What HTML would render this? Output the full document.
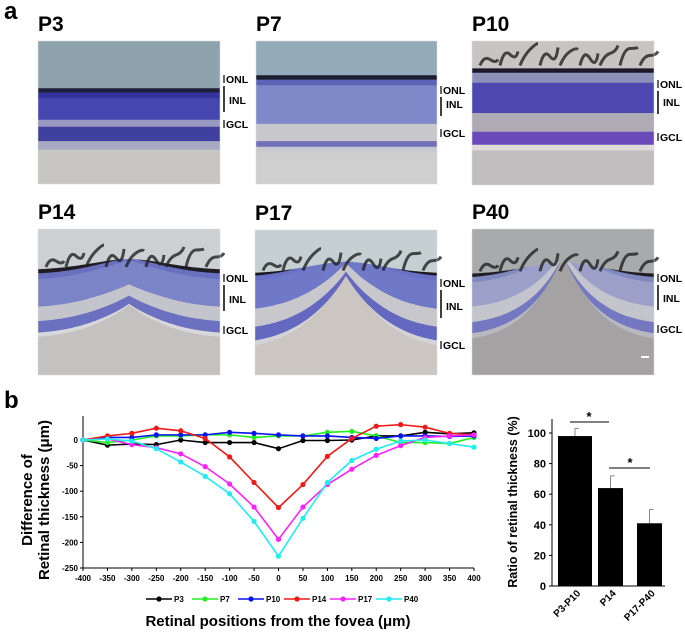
<!DOCTYPE html>
<html><head><meta charset="utf-8">
<style>
body{margin:0;background:#fff;font-family:"Liberation Sans",Arial,sans-serif;}
#root{position:relative;width:685px;height:633px;overflow:hidden;background:#fff;}
.lbl{position:absolute;font-weight:bold;color:#000;}
svg{position:absolute;left:0;top:0;}
</style></head><body>
<div id="root">
<div class="lbl" style="left:4px;top:-2px;font-size:24px">a</div>
<div class="lbl" style="left:4px;top:387px;font-size:24px">b</div>
<svg id="micro" width="685" height="390"></svg>
<svg id="line" width="490" height="243" style="top:390px"></svg>
<svg id="bar" width="195" height="243" style="left:490px;top:390px"></svg>
</div>
<script>
const NS="http://www.w3.org/2000/svg";
function mk(p,tag,at){const e=document.createElementNS(NS,tag);for(const k in at)e.setAttribute(k,at[k]);p.appendChild(e);return e;}
// ---------- micrographs ----------
const micro=document.getElementById('micro');
const panels=[
 {t:'P3',x:38,y:41,w:182,h:143,top:'#8fa3ae',bot:'#c8c6c2',dip:0,dw:0.1,lungs:false,
  layers:[[0.36,'#1e1e3a'],[0.40,'#3434a0'],[0.55,'#4646b0'],[0.60,'#9898c0'],[0.70,'#4040a0'],[0.76,'#a8a8c0']],labs:[79,100,124]},
 {t:'P7',x:256,y:41,w:181,h:143,top:'#93aab8',bot:'#cfcfcf',dip:0,dw:0.1,lungs:false,
  layers:[[0.27,'#1c1c2c'],[0.31,'#5c64b8'],[0.58,'#7f88c8'],[0.70,'#c8c8cc'],[0.74,'#7070b8'],[0.78,'#c8c8d0']],labs:[90,104,133]},
 {t:'P10',x:472,y:41,w:182,h:144,top:'#c8c4c4',bot:'#c0bebe',dip:0,dw:0.1,lungs:true,
  layers:[[0.22,'#1c1828'],[0.29,'#8a90b8'],[0.50,'#4c48b0'],[0.63,'#b0aab4'],[0.72,'#6a4ab8'],[0.76,'#e0dcdc']],labs:[84,102,137]},
 {t:'P14',x:38,y:229,w:182,h:146,top:'#ccd0d2',bot:'#c4c2c0',dip:0.14,dw:0.16,lungs:true,
  layers:[[0.31,'#201c24'],[0.35,'#6a70c0'],[0.54,'#7c84c8'],[0.64,'#c4c4cc'],[0.72,'#6c70c0'],[0.75,'#d8d8dc']],labs:[278,299,330]},
 {t:'P17',x:255,y:230,w:182,h:145,top:'#c4d0d2',bot:'#cbc6c2',dip:0.42,dw:0.2,lungs:true,
  layers:[[0.33,'#1c1820'],[0.37,'#6a70c4'],[0.57,'#7078c8'],[0.70,'#c8c8cc'],[0.80,'#6468c0'],[0.84,'#d4d4d8']],labs:[283,306,345]},
 {t:'P40',x:472,y:229,w:182,h:146,top:'#a8aaac',bot:'#a4a2a2',dip:0.5,dw:0.16,lungs:true,
  layers:[[0.34,'#201c24'],[0.38,'#8088c0'],[0.55,'#9ca0c8'],[0.66,'#c4c4cc'],[0.74,'#7478c0'],[0.78,'#b8b8c0']],labs:[278,298,329]}
];
panels.forEach((p,pi)=>{
  const g=mk(micro,'g',{});
  
  
  mk(g,'rect',{x:p.x,y:p.y,width:p.w,height:p.h,fill:p.bot});
  const N=60;
  function bnd(f,k){let pts=[];for(let i=0;i<=N;i++){const u=i/N;const xx=p.x+u*p.w;
    const arch=(pi>=3?-0.07*Math.exp(-Math.pow((u-0.5)/0.3,2)):0);
    const d=p.dip*(k/6+0.15)*Math.exp(-Math.abs(u-0.5)/p.dw)*(k>0?1:0.2);
    pts.push([xx,p.y+p.h*(f+arch-d)]);}return pts;}
  for(let k=p.layers.length-1;k>=0;k--){
    const b=bnd(p.layers[k][0],k+1);
    let d='M'+p.x+','+p.y+' ';b.forEach(q=>d+='L'+q[0].toFixed(1)+','+q[1].toFixed(1)+' ');
    d+='L'+(p.x+p.w)+','+p.y+'Z';
    mk(g,'path',{d:d,fill:p.layers[k][1]});
  }
  const b0=bnd(p.layers[0][0]-0.03,0);
  let d='M'+p.x+','+p.y+' ';b0.forEach(q=>d+='L'+q[0].toFixed(1)+','+q[1].toFixed(1)+' ');d+='L'+(p.x+p.w)+','+p.y+'Z';
  mk(g,'path',{d:d,fill:p.top});
  if(p.lungs){
    for(let i=0;i<9;i++){
      mk(g,'path',{d:`M${p.x+8+i*20},${p.y+p.h*(p.layers[0][0]-0.05)} q4,-${10+(i*7)%14} 10,-${6+(i*5)%12} t8,-${(i*3)%10}`,stroke:'#222',fill:'none','stroke-width':3,opacity:0.8});
    }
  }
  mk(g,'rect',{x:p.x,y:p.y,width:p.w,height:p.h,fill:'none',stroke:'#ddd','stroke-width':0.5});
  const t=mk(micro,'text',{x:p.x,y:p.y-10,'font-size':21,'font-weight':'bold','font-family':'Liberation Sans, sans-serif'});t.textContent=p.t;
  
  
  const lx=p.x+p.w+3;
  ['ONL','INL','GCL'].forEach((s,j)=>{
    const tx=mk(micro,'text',{x:lx+(j==1?6:3),y:p.labs[j]+4,'font-size':10.5,'font-weight':'bold','font-family':'Liberation Sans, sans-serif'});tx.textContent=s;
    
    
    if(j!=1) mk(micro,'line',{x1:lx+1,x2:lx+1,y1:p.labs[j]-4,y2:p.labs[j]+4,stroke:'#000','stroke-width':1.2});
  });
  mk(micro,'line',{x1:lx+1,x2:lx+1,y1:p.labs[0]+7,y2:p.labs[1]+12,stroke:'#000','stroke-width':1.5});
  if(pi==5) mk(micro,'rect',{x:641,y:356,width:8,height:2,fill:'#fff'});
});
// ---------- line chart ----------
const xCats=[-400,-350,-300,-250,-200,-150,-100,-50,0,50,100,150,200,250,300,350,400];
const yTicks=[0,-50,-100,-150,-200,-250];
const seriesNames=['P3','P7','P10','P14','P17','P40'];
const seriesColors=['#000000','#22ee22','#0a14f0','#ee1a1a','#ff22ff','#22ecf0'];
const sP3=[0,-10,-8,-9,0,-5,-5,-5,-17,-1,-1,0,8,8,15,12,14];
const sP7=[0,-5,0,8,8,10,10,5,8,8,15,17,8,-5,-5,-7,5];
const sP10=[0,5,5,10,10,10,15,13,10,8,8,5,3,8,8,7,8];
const sP14=[0,8,13,23,18,3,-33,-83,-132,-87,-32,3,27,30,25,13,10];
const sP17=[0,2,-9,-15,-27,-52,-86,-131,-194,-131,-87,-57,-30,-11,5,8,10];
const sP40=[0,2,-2,-17,-43,-71,-105,-159,-227,-153,-83,-40,-18,-2,0,-7,-14];
const allSeries=[sP3,sP7,sP10,sP14,sP17,sP40];
const L=document.getElementById('line');
const X=v=>83+(v+400)/800*391, Y=v=>50-v/250*128;
mk(L,'line',{x1:83,x2:83,y1:26,y2:Y(-250),stroke:'#000','stroke-width':1});
mk(L,'line',{x1:83,x2:474,y1:Y(-250),y2:Y(-250),stroke:'#000','stroke-width':1});
yTicks.forEach(v=>{mk(L,'line',{x1:80,x2:83,y1:Y(v),y2:Y(v),stroke:'#000'});
  const t=mk(L,'text',{x:78,y:Y(v)+3,'text-anchor':'end','font-size':8,'font-weight':'bold'});t.textContent=v;
  
  });
xCats.forEach(v=>{mk(L,'line',{x1:X(v),x2:X(v),y1:Y(-250),y2:Y(-250)+3,stroke:'#000'});
  const t=mk(L,'text',{x:X(v),y:Y(-250)+13,'text-anchor':'middle','font-size':8,'font-weight':'bold'});t.textContent=v;
  
  });
allSeries.forEach((s,i)=>{
  const g=mk(L,'g',{});
  
  
  mk(g,'polyline',{points:s.map((v,j)=>X(xCats[j])+','+Y(v)).join(' '),fill:'none',stroke:seriesColors[i],'stroke-width':1.6});
  s.forEach((v,j)=>mk(g,'circle',{cx:X(xCats[j]),cy:Y(v),r:2.6,fill:seriesColors[i]}));
  const lx=146+i*46;
  const le=mk(L,'g',{});
  
  
  mk(le,'line',{x1:lx,x2:lx+26,y1:209,y2:209,stroke:seriesColors[i],'stroke-width':1.6});
  mk(le,'circle',{cx:lx+13,cy:209,r:2.6,fill:seriesColors[i]});
  const t=mk(le,'text',{x:lx+28,y:212,'font-size':8,'font-weight':'bold'});t.textContent=seriesNames[i];
});
const yt=mk(L,'text',{transform:'translate(32,110) rotate(-90)','text-anchor':'middle','font-size':15,'font-weight':'bold'});


mk(yt,'tspan',{x:0,dy:0}).textContent='Difference of';
mk(yt,'tspan',{x:0,dy:17}).textContent='Retinal thickness (μm)';
const xt=mk(L,'text',{x:278,y:236,'text-anchor':'middle','font-size':15,'font-weight':'bold'});xt.textContent='Retinal positions from the fovea (μm)';


// ---------- bar chart ----------
const barCats=['P3-P10','P14','P17-P40'];
const barVals=[98,64,41];
const barErr=[5,8,9];
const barTicks=[0,20,40,60,80,100];
const B=document.getElementById('bar');
const BY=v=>196-v/100*153;
const bx0=[68,108,147];
mk(B,'line',{x1:62,x2:62,y1:29,y2:BY(0),stroke:'#000'});
mk(B,'line',{x1:62,x2:175,y1:BY(0),y2:BY(0),stroke:'#000'});
barTicks.forEach(v=>{mk(B,'line',{x1:59,x2:62,y1:BY(v),y2:BY(v),stroke:'#000'});
  const t=mk(B,'text',{x:56,y:BY(v)+4,'text-anchor':'end','font-size':11,'font-weight':'bold'});t.textContent=v;
  
  });
barVals.forEach((v,i)=>{
  const x=bx0[i];const w=[34,25,25][i];
  mk(B,'line',{x1:x+w/2,x2:x+w/2,y1:BY(v),y2:BY(v+barErr[i]),stroke:'#888','stroke-width':1});
  mk(B,'line',{x1:x+w/2,x2:x+w/2+4,y1:BY(v+barErr[i]),y2:BY(v+barErr[i]),stroke:'#888'});
  const r=mk(B,'rect',{x:x,y:BY(v),width:w,height:BY(0)-BY(v),fill:'#000'});
  
  
  const t=mk(B,'text',{transform:`translate(${x+w/2+6},${BY(0)+8}) rotate(-45)`,'text-anchor':'end','font-size':10,'font-weight':'bold'});t.textContent=barCats[i];
  
  
});
mk(B,'line',{x1:80,x2:119,y1:32,y2:32,stroke:'#000'});
mk(B,'line',{x1:119,x2:160,y1:78,y2:78,stroke:'#000'});
const s1=mk(B,'text',{x:99,y:31,'text-anchor':'middle','font-size':13,'font-weight':'bold'});s1.textContent='*';


const s2=mk(B,'text',{x:140,y:77,'text-anchor':'middle','font-size':13,'font-weight':'bold'});s2.textContent='*';


const byt=mk(B,'text',{transform:'translate(27,112) rotate(-90)','text-anchor':'middle','font-size':12.5,'font-weight':'bold'});byt.textContent='Ratio of retinal thickness (%)';


</script>
</body></html>
